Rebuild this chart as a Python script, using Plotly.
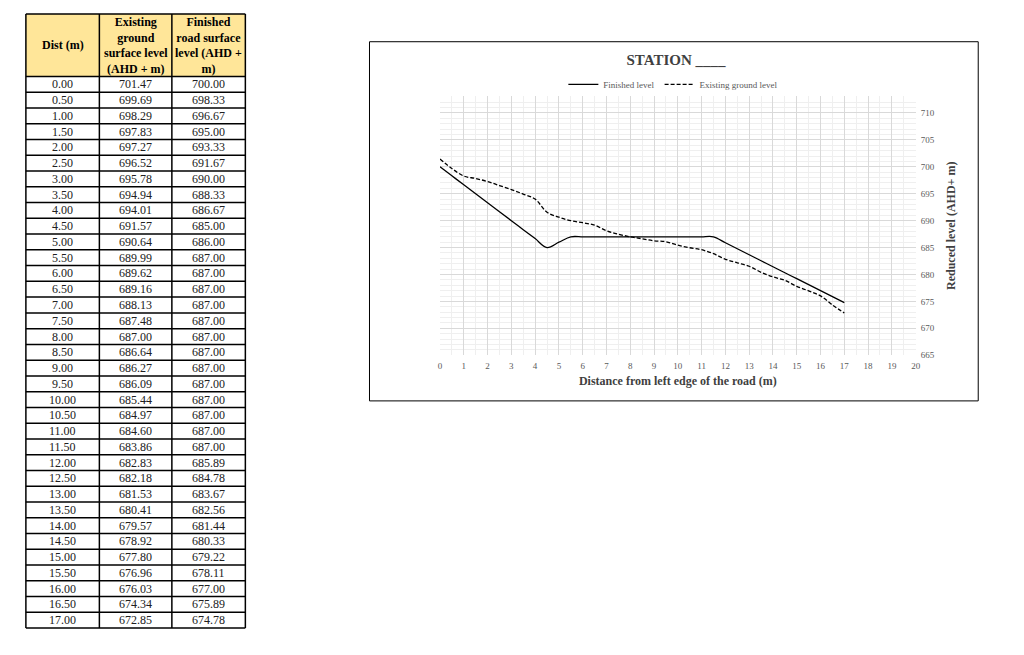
import plotly.graph_objects as go

dist = [i*0.5 for i in range(35)]
existing = [701.47,699.69,698.29,697.83,697.27,696.52,695.78,694.94,694.01,691.57,690.64,689.99,689.62,689.16,688.13,687.48,687.00,686.64,686.27,686.09,685.44,684.97,684.60,683.86,682.83,682.18,681.53,680.41,679.57,678.92,677.80,676.96,676.03,674.34,672.85]
finished = [700.00,698.33,696.67,695.00,693.33,691.67,690.00,688.33,686.67,685.00,686.00,687.00,687.00,687.00,687.00,687.00,687.00,687.00,687.00,687.00,687.00,687.00,687.00,687.00,685.89,684.78,683.67,682.56,681.44,680.33,679.22,678.11,677.00,675.89,674.78]
headers = ["<b>Dist (m)</b>", "<b>Existing<br>ground<br>surface level<br>(AHD + m)</b>", "<b>Finished<br>road surface<br>level (AHD +<br>m)</b>"]

OFF = 8
W, H = 1024 - 2 * OFF, 655 - 2 * OFF
def px(x): return (x - OFF) / W
def py(y): return 1 - (y - OFF) / H

col_edges = [24, 98, 171, 245]
top, head_bot, bottom = 14, 77, 633
row_h = (bottom - head_bot) / len(dist)
columns = [[f"{d:.2f}" for d in dist], [f"{v:.2f}" for v in existing], [f"{v:.2f}" for v in finished]]

shapes = []
annotations = []
# header background
shapes.append(dict(type="rect", xref="paper", yref="paper", x0=px(col_edges[0]), x1=px(col_edges[-1]),
                   y0=py(head_bot), y1=py(top), fillcolor="#FFE699", line=dict(width=0), layer="below"))
for c in range(3):
    cx = (col_edges[c] + col_edges[c + 1]) / 2
    annotations.append(dict(xref="paper", yref="paper", x=px(cx), y=py((top + head_bot) / 2), text=headers[c],
                            showarrow=False, font=dict(family="Liberation Serif", size=12, color="black"),
                            xanchor="center", yanchor="middle"))
    for r, val in enumerate(columns[c]):
        cy = head_bot + (r + 0.5) * row_h
        annotations.append(dict(xref="paper", yref="paper", x=px(cx), y=py(cy), text=val, showarrow=False,
                                font=dict(family="Liberation Serif", size=12, color="#202020"),
                                xanchor="center", yanchor="middle"))
# grid lines of the table
for x in col_edges:
    shapes.append(dict(type="line", xref="paper", yref="paper", x0=px(x), x1=px(x), y0=py(bottom), y1=py(top),
                       line=dict(color="black", width=1.5)))
ys = [top, head_bot] + [head_bot + (r + 1) * row_h for r in range(len(dist))]
for y in ys:
    shapes.append(dict(type="line", xref="paper", yref="paper", x0=px(col_edges[0]), x1=px(col_edges[-1]),
                       y0=py(y), y1=py(y), line=dict(color="black", width=1.5)))
# chart border
shapes.append(dict(type="rect", xref="paper", yref="paper", x0=px(370), x1=px(983), y0=py(404), y1=py(42),
                   line=dict(color="black", width=1)))

fig = go.Figure()
fig.add_trace(go.Scatter(x=dist, y=finished, mode="lines", name="Finished level",
                         line=dict(color="black", width=1.3, shape="spline")))
fig.add_trace(go.Scatter(x=dist, y=existing, mode="lines", name="Existing ground level",
                         line=dict(color="black", width=1.3, dash="4px,2px", shape="spline")))

fig.update_layout(
    width=W, height=H, margin=dict(l=0, r=0, t=0, b=0),
    paper_bgcolor="white", plot_bgcolor="white",
    font=dict(family="Liberation Serif", color="#404040"),
    title=dict(text="<b>STATION ____</b>", x=px(676), xanchor="center", y=py(60), yanchor="middle",
               font=dict(size=15, color="#404040")),
    showlegend=True,
    legend=dict(orientation="h", x=px(676), xanchor="center", y=py(85), yanchor="middle",
                font=dict(size=9, color="#595959"), bgcolor="rgba(0,0,0,0)"),
    xaxis=dict(domain=[px(441), px(920)], range=[0, 20], dtick=1, showgrid=True, gridcolor="#d9d9d9",
               minor=dict(dtick=0.5, showgrid=True, gridcolor="#efefef"), zeroline=False,
               showline=False, tickfont=dict(size=9, color="#595959"), anchor="y", ticklabelstandoff=4,
               title=dict(text="<b>Distance from left edge of the road (m)</b>", font=dict(size=12, color="#404040"), standoff=6)),
    yaxis=dict(domain=[py(358), py(97)], range=[665, 713.1], dtick=5, tick0=665, side="right",
               showgrid=True, gridcolor="#d9d9d9", minor=dict(dtick=1, showgrid=True, gridcolor="#efefef"),
               zeroline=False, showline=False, tickfont=dict(size=9, color="#595959"), ticklabelstandoff=4,
               title=dict(text="<b>Reduced level (AHD+ m)</b>", font=dict(size=12, color="#404040"), standoff=12)),
    shapes=shapes,
    annotations=annotations,
)
fig.write_html("out.html")
